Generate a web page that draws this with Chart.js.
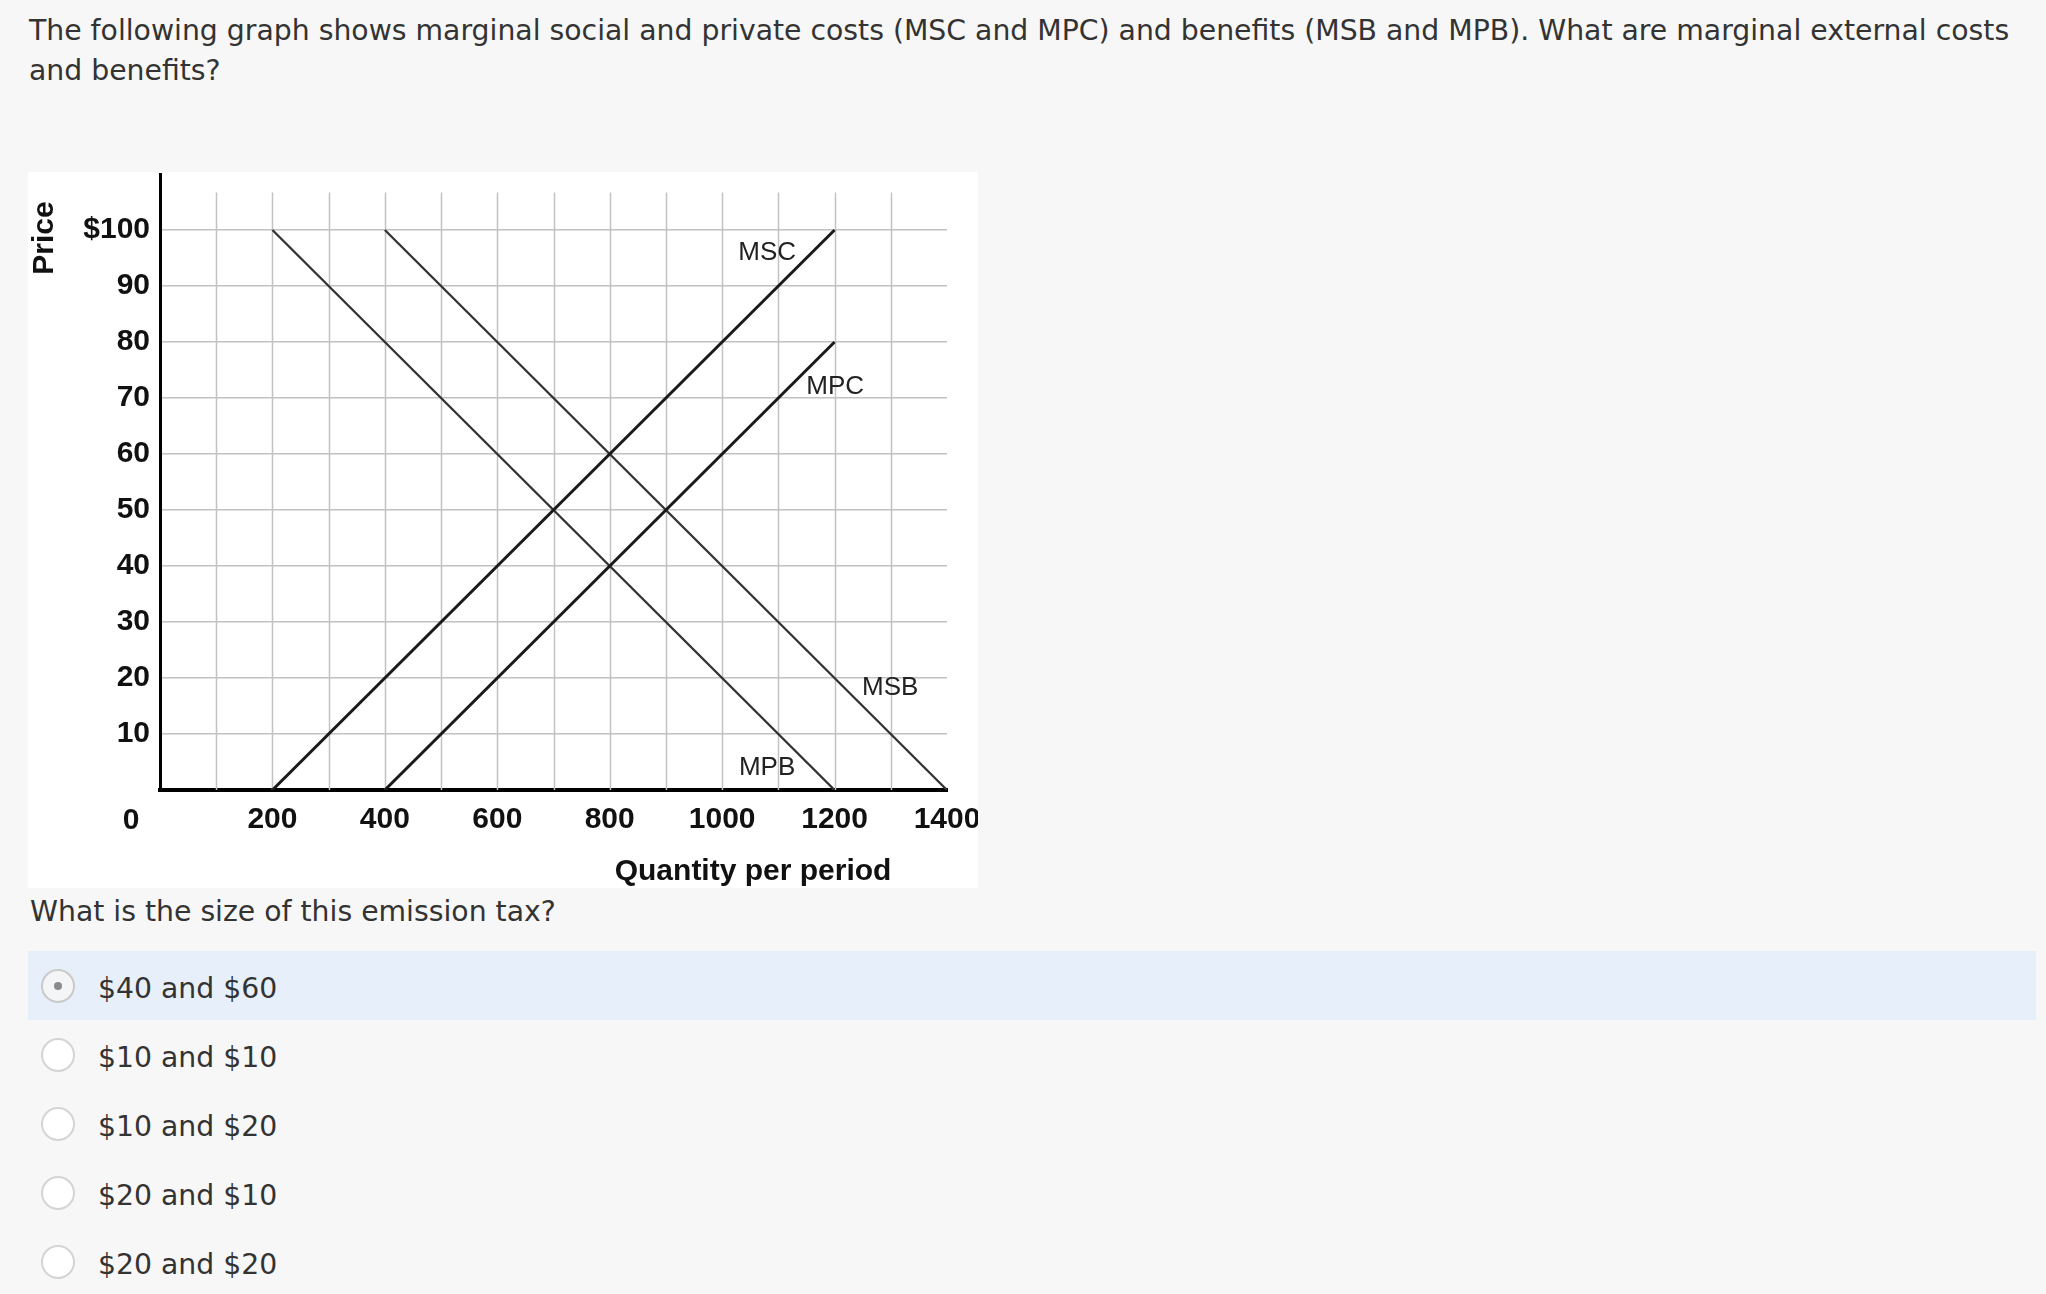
<!DOCTYPE html>
<html>
<head>
<meta charset="utf-8">
<script src="https://cdn.jsdelivr.net/npm/chart.js@4.4.1/dist/chart.umd.min.js"></script>
<style>
  html, body { margin: 0; padding: 0; }
  body { width: 2046px; height: 1294px; background: #f7f7f7; font-family: "DejaVu Sans", Verdana, sans-serif; color: #333; position: relative; overflow: hidden; }
  .q { position: absolute; left: 29px; top: 11px; margin: 0; font-size: 28.3px; line-height: 40px; white-space: nowrap; }
  #box { position: absolute; left: 28px; top: 172px; width: 950px; height: 716px; background: #fff; }
  .ask { position: absolute; left: 30px; top: 892px; margin: 0; font-size: 28.3px; line-height: 40px; }
  .opts { position: absolute; left: 28px; top: 951px; width: 2008px; }
  .opt { position: relative; height: 69px; font-size: 28.3px; line-height: 69px; }
  .opt.sel { background: #e7f0fa; }
  .opt .r { position: absolute; left: 13px; top: 18px; width: 30px; height: 30px; border: 2px solid #d4d4d4; border-radius: 50%; background: #fff; }
  .opt .r.on { background: #f3f5f7; border-color: #cacaca; }
  .opt .r.on::after { content: ''; position: absolute; left: 11px; top: 11px; width: 8px; height: 8px; border-radius: 50%; background: #8a8a8a; }
  .opt .t { position: absolute; left: 70px; top: 3px; }
</style>
</head>
<body>
<p class="q">The following graph shows marginal social and private costs (MSC and MPC) and benefits (MSB and MPB). What are marginal external costs<br>and benefits?</p>

<div id="box"><canvas id="chart"></canvas></div>

<p class="ask">What is the size of this emission tax?</p>
<div class="opts">
  <div class="opt sel"><span class="r on"></span><span class="t">$40 and $60</span></div>
  <div class="opt"><span class="r"></span><span class="t">$10 and $10</span></div>
  <div class="opt"><span class="r"></span><span class="t">$10 and $20</span></div>
  <div class="opt"><span class="r"></span><span class="t">$20 and $10</span></div>
  <div class="opt"><span class="r"></span><span class="t">$20 and $20</span></div>
</div>

<script>
// quantities (x) and prices (y) for each curve's end points
const mscQty = [200, 1200],  mscPrice = [0, 100];
const mpcQty = [400, 1200],  mpcPrice = [0, 80];
const mpbQty = [200, 1200],  mpbPrice = [100, 0];
const msbQty = [400, 1400],  msbPrice = [100, 0];
const curveNames = ['MSC', 'MPC', 'MPB', 'MSB'];
const xTickLabels = [200, 400, 600, 800, 1000, 1200, 1400];
const yTickLabels = [10, 20, 30, 40, 50, 60, 70, 80, 90, 100];

const pts = (qs, ps) => qs.map((q, i) => ({ x: q, y: ps[i] }));
const tickFont = { family: '"Liberation Sans", Arial, sans-serif', size: 30, weight: 'bold' };

// where the curve names sit (data coords)
const labelSpots = { MSC: [1080, 95.9], MPC: [1201, 72], MPB: [1080, 3.9], MSB: [1299, 18.2] };

const extras = {
  id: 'extras',
  beforeDatasetsDraw(chart) {
    const { ctx, chartArea, scales: { x, y } } = chart;
    ctx.save();
    ctx.strokeStyle = '#c2c2c2';
    ctx.lineWidth = 1.5;
    x.ticks.forEach(t => {
      if (t.value <= 0 || t.value >= 1400) return;
      const px = Math.round(x.getPixelForValue(t.value)) + 0.5;
      ctx.beginPath();
      ctx.moveTo(px, y.getPixelForValue(106.7));
      ctx.lineTo(px, chartArea.bottom);
      ctx.stroke();
    });
    ctx.restore();
  },
  afterDraw(chart) {
    const { ctx, chartArea, scales: { x, y } } = chart;
    ctx.save();
    ctx.fillStyle = '#222';
    ctx.textAlign = 'center';
    ctx.textBaseline = 'middle';
    ctx.font = '26px "Liberation Sans", Arial, sans-serif';
    curveNames.forEach(n => {
      const [q, p] = labelSpots[n];
      ctx.fillText(n, x.getPixelForValue(q), y.getPixelForValue(p));
    });
    ctx.fillStyle = '#111';
    ctx.font = 'bold 30px "Liberation Sans", Arial, sans-serif';
    ctx.fillText('0', x.getPixelForValue(0) - 29, chartArea.bottom + 31);
    ctx.fillText('Quantity per period', x.getPixelForValue(1055), chartArea.bottom + 82);
    ctx.translate(17, chartArea.top + 64);
    ctx.rotate(-Math.PI / 2);
    ctx.fillText('Price', 0, 0);
    ctx.restore();
  }
};

const curve = (label, data, width, color) => ({ label, data, showLine: true, borderColor: color, borderWidth: width, pointRadius: 0, fill: false, tension: 0 });

new Chart(document.getElementById('chart'), {
  type: 'scatter',
  data: {
    datasets: [
      curve('MSC', pts(mscQty, mscPrice), 3, '#1a1a1a'),
      curve('MPC', pts(mpcQty, mpcPrice), 3, '#1a1a1a'),
      curve('MPB', pts(mpbQty, mpbPrice), 2.3, '#333'),
      curve('MSB', pts(msbQty, msbPrice), 2.3, '#333')
    ]
  },
  options: {
    responsive: true,
    maintainAspectRatio: false,
    animation: false,
    layout: { padding: { top: 2, right: 31, bottom: 0, left: 0 } },
    plugins: { legend: { display: false }, tooltip: { enabled: false } },
    scales: {
      x: {
        type: 'linear', min: 0, max: 1400,
        afterFit(s) { s.height = 98; s.paddingLeft = 0; s.paddingRight = 0; },
        grid: { display: false, drawTicks: false },
        border: { display: true, color: '#000', width: 4 },
        ticks: {
          stepSize: 100, autoSkip: false, maxRotation: 0, padding: 12,
          color: '#111', font: tickFont,
          callback: v => xTickLabels.includes(v) ? String(v) : ''
        }
      },
      y: {
        type: 'linear', min: 0, max: 110,
        afterFit(s) { s.width = 132; s.paddingTop = 0; s.paddingBottom = 0; },
        grid: {
          drawTicks: false, lineWidth: 1.5,
          color: c => yTickLabels.includes(c.tick.value) ? '#c2c2c2' : 'rgba(0,0,0,0)'
        },
        border: { display: true, color: '#000', width: 3 },
        ticks: {
          stepSize: 10, autoSkip: false, padding: 10,
          color: '#111', font: tickFont,
          callback: v => yTickLabels.includes(v) ? (v === 100 ? '$100' : String(v)) : ''
        }
      }
    }
  },
  plugins: [extras]
});
</script>
</body>
</html>
